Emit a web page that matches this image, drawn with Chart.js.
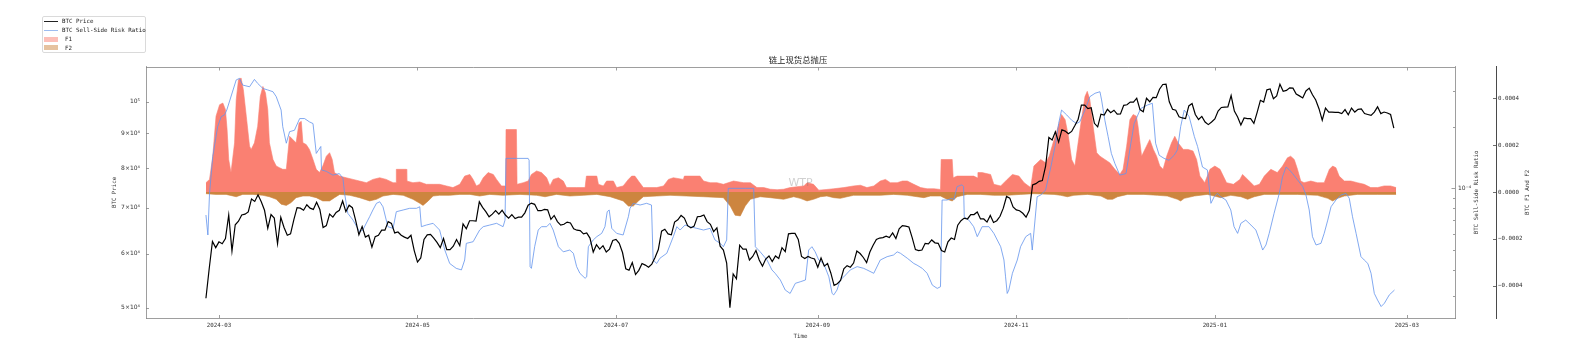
<!DOCTYPE html>
<html>
<head>
<meta charset="utf-8">
<script src="https://cdn.jsdelivr.net/npm/chart.js@4.4.1/dist/chart.umd.min.js"></script>
<style>
html,body{margin:0;padding:0;background:#fff;}
#wrap{position:relative;width:1596px;height:360px;overflow:hidden;}
#c{position:absolute;left:0;top:0;}
.lg{position:absolute;}
.lgbox{left:41.5px;top:16px;width:104.5px;height:37px;border:1px solid #dadada;border-radius:2px;box-sizing:border-box;background:rgba(255,255,255,0.8);}
.lgt{font:5.8px 'DejaVu Sans Mono',monospace;line-height:6px;height:6px;color:#222;white-space:pre;}
</style>
</head>
<body>
<div id="wrap">
<canvas id="c" width="1596" height="360"></canvas>
<div class="lg lgbox"></div>
<div class="lg" style="left:44px;top:20.7px;width:14px;height:1px;background:#222"></div>
<div class="lg lgt" style="left:62px;top:18.2px">BTC Price</div>
<div class="lg" style="left:44px;top:29.6px;width:14px;height:1px;background:#9dbcf0"></div>
<div class="lg lgt" style="left:62px;top:27.1px">BTC Sell-Side Risk Ratio</div>
<div class="lg" style="left:44px;top:36.5px;width:14px;height:5px;background:rgba(250,128,114,0.5)"></div>
<div class="lg lgt" style="left:65px;top:36px">F1</div>
<div class="lg" style="left:44px;top:45.3px;width:14px;height:5px;background:rgba(205,133,63,0.5)"></div>
<div class="lg lgt" style="left:65px;top:44.8px">F2</div>
</div>
<script>
// ---------------- DATA ----------------
const startDate = '2024-02-26';           // first daily price
const chartTitle = '链上现货总抛压';
const xTitle = 'Time';
const priceTitle = 'BTC Price';
const ssrTitle = 'BTC Sell-Side Risk Ratio';
const f12Title = 'BTC F1 And F2';

// daily BTC price, 2024-02-26 .. 2025-02-25
const btcPrice = [
  51600, 57000, 62500, 61200,
  62400, 62000, 63100, 68300, 60500, 66100, 66900, 68300, 68500, 69000, 72100, 71500, 73100, 71400, 69400, 65300, 68400, 67600, 62000, 67800, 65500, 63800, 64100, 67200, 70000, 69900, 69400, 70700, 69900, 69600, 71300,
  69600, 65500, 65900, 68500, 67800, 68900, 69400, 71600, 69100, 70600, 70000, 67100, 63900, 65700, 63400, 63800, 61300, 63500, 63800, 64900, 64900, 66800, 66400, 64300, 64500, 63800, 63400, 63100, 63800, 60600,
  58300, 59100, 62900, 63900, 64000, 63200, 62300, 61200, 63100, 60800, 60800, 61500, 62900, 61600, 66300, 65200, 67000, 67000, 66900, 71400, 70100, 69100, 67900, 68500, 69300, 68500, 69400, 68300, 67600, 68400, 67500,
  67800, 67800, 68800, 70600, 71100, 70800, 69300, 69300, 69600, 69500, 67300, 68200, 66800, 66000, 66200, 66700, 66500, 65200, 64900, 64800, 64100, 64300, 63200, 60300, 61800, 60900, 61600, 60300, 60900, 62700,
  62900, 62100, 60200, 57000, 56700, 58200, 55900, 56700, 58000, 57700, 57300, 57900, 59200, 60800, 64700, 65100, 64100, 63900, 66700, 67200, 68200, 67600, 65900, 65400, 65800, 67900, 68000, 68300, 66800, 66200, 64600,
  65400, 61500, 60700, 58100, 50000, 56000, 55100, 61700, 60900, 60900, 58700, 59400, 60600, 58700, 57500, 58900, 59500, 58400, 59500, 59000, 61200, 60400, 64100, 64200, 64200, 62900, 59400, 59000, 59400, 59100, 58900,
  57300, 59100, 57500, 58000, 56200, 53900, 54200, 54800, 57000, 57600, 57300, 58100, 60500, 60000, 59200, 58200, 60300, 61700, 62900, 63200, 63300, 63600, 63300, 64300, 63100, 65200, 65900, 65800, 65600, 63300,
  60800, 60600, 60700, 62100, 62000, 62800, 62200, 62100, 60600, 60300, 62400, 63200, 62900, 66000, 67000, 67600, 67400, 68400, 68400, 69000, 67400, 67400, 66700, 68200, 66600, 67000, 68000, 69900, 72700, 72300, 70200,
  69500, 69300, 68700, 67800, 69400, 75600, 75900, 76500, 76700, 80500, 88700, 87900, 90400, 87300, 91000, 90600, 89800, 90500, 92300, 94300, 98900, 98900, 97700, 98000, 93000, 91900, 95900, 95600, 97500, 96400,
  97200, 95900, 96000, 98800, 99000, 99900, 99900, 101200, 97400, 96700, 101200, 100000, 101500, 101400, 104300, 106000, 106100, 100000, 97500, 97200, 95100, 94700, 94500, 98600, 99400, 95800, 94200, 95200, 93400, 92600, 93400,
  94400, 96900, 98100, 98200, 98300, 102100, 96900, 95000, 92500, 94700, 94500, 94500, 93000, 96500, 100500, 99900, 104100, 104400, 101000, 102000, 106100, 103600, 103900, 104800, 104700, 102600, 102000, 101300, 103700, 104700, 102400,
  100600, 97700, 94000, 97900, 96600, 96600, 96500, 96500, 96100, 97400, 95700, 97900, 96600, 97500, 97600, 96100, 95800, 95500, 96600, 98300, 96100, 96600, 96300, 95800, 91500
];

// Sell-side risk ratio: day offset from startDate, value
const ssrDay = [0,0.6,1.1,2.1,3.6,4.7,5.7,6.4,9.3,10.3,11.3,13.4,14.9,15.9,17.5,19.0,20.6,21.6,23.1,23.6,24.7,25.7,27.2,28.8,30.3,31.8,32.9,33.9,35.3,35.5,37.0,39.0,41.0,42.1,42.6,43.6,45.2,47.2,48.2,50.3,51.3,52.4,53.4,54.4,55.9,57.5,58.5,60.6,62.6,64.7,65.7,66.2,67.7,69.8,71.8,73.4,74.9,76.9,78.5,79.5,80.0,82.1,84.1,85.2,87.2,89.3,91.3,91.9,92.2,95.4,99.0,99.3,99.6,100.0,101.0,102.1,103.1,104.7,105.7,106.7,108.3,109.8,111.8,112.9,113.9,114.9,116.5,117.0,117.5,119.0,120.1,121.6,122.6,123.3,123.9,124.7,126.2,128.2,129.8,130.3,131.3,133.4,135.4,136.9,137.4,138.5,139.5,141.6,143.6,144.7,145.7,147.2,148.8,150.8,152.9,154.9,156.4,158.0,159.0,160.0,160.5,162.6,165.7,168.3,168.8,170.3,172.4,173.9,174.9,176.5,178.0,179.5,181.1,182.6,184.2,185.2,186.2,187.2,188.3,189.8,191.4,192.4,192.9,193.9,194.9,196.0,198.0,200.1,202.1,203.1,205.2,207.2,209.3,211.3,212.4,213.4,215.5,217.5,218.5,220.1,221.6,223.2,224.7,225.7,226.2,227.7,229.3,229.8,230.8,232.3,232.8,233.0,234.4,235.9,237.0,238.0,238.5,240.6,242.1,244.2,245.2,245.7,246.2,246.7,247.8,249.3,250.3,251.9,253.4,253.9,255.4,256.5,258.0,259.6,261.1,262.0,262.9,264.5,266.0,267.5,268.5,270.1,271.6,273.2,274.7,275.2,276.2,277.2,278.2,279.3,280.8,282.7,284.2,285.2,287.2,289.3,290.8,291.8,292.9,294.4,295.9,297.5,298.5,299.5,300.6,302.1,303.7,304.7,306.2,307.7,308.8,309.8,310.8,311.8,313.4,314.9,315.9,317.0,318.0,319.5,321.1,322.6,323.7,324.7,325.7,326.7,328.2,329.8,330.8,331.9,332.9,333.9,335.4,337.0,338.0,339.0,340.0,341.1,342.6,343.6,344.7,345.7,347.2,348.7,350.3,351.3,352.3,353.4,354.9,355.9,357.0,358.0,359.0,360.0,361.1,362.1,363.6,365.2];
const ssrVal = [7.41e-5,5.92e-5,9.45e-5,1.43e-4,2.0e-4,2.24e-4,2.28e-4,2.41e-4,3.38e-4,3.44e-4,3.19e-4,3.13e-4,3.40e-4,3.25e-4,3.07e-4,3.02e-4,2.96e-4,2.80e-4,2.41e-4,2.0e-4,1.66e-4,1.89e-4,1.92e-4,2.19e-4,2.19e-4,2.11e-4,2.07e-4,1.48e-4,1.60e-4,1.23e-4,1.21e-4,1.16e-4,1.18e-4,1.12e-4,9.45e-5,7.55e-5,7.0e-5,6.14e-5,6.26e-5,7.27e-5,7.84e-5,8.45e-5,8.6e-5,8.13e-5,6.5e-5,6.38e-5,7.69e-5,7.84e-5,7.99e-5,7.99e-5,8.13e-5,6.5e-5,6.62e-5,6.75e-5,6.26e-5,5.0e-5,4.3e-5,4.07e-5,4.0e-5,4.47e-5,5.39e-5,5.49e-5,6.26e-5,6.5e-5,6.62e-5,6.75e-5,6.5e-5,7.0e-5,1.40e-4,1.40e-4,1.40e-4,1.37e-4,4.15e-5,4.07e-5,5.19e-5,6.26e-5,6.5e-5,6.5e-5,6.75e-5,6.26e-5,5.19e-5,4.9e-5,5.0e-5,4.82e-5,4.15e-5,3.85e-5,3.64e-5,3.7e-5,5.19e-5,5.6e-5,5.81e-5,6.03e-5,6.5e-5,7.69e-5,7.84e-5,6.38e-5,6.03e-5,5.92e-5,7.27e-5,7.99e-5,8.45e-5,8.29e-5,8.45e-5,8.29e-5,4.47e-5,4.3e-5,4.56e-5,4.82e-5,5.81e-5,6.5e-5,6.26e-5,6.62e-5,6.5e-5,6.38e-5,6.26e-5,6.38e-5,5.6e-5,5.39e-5,5.19e-5,5.6e-5,1.0e-4,1.0e-4,1.0e-4,1.0e-4,5.19e-5,4.9e-5,4.47e-5,4.0e-5,3.85e-5,3.57e-5,3.19e-5,3.07e-5,3.44e-5,3.5e-5,3.57e-5,5.0e-5,5.19e-5,4.9e-5,4.47e-5,4.3e-5,3.7e-5,3.07e-5,3.02e-5,3.19e-5,3.57e-5,3.7e-5,4.0e-5,4.15e-5,4.07e-5,4.0e-5,3.85e-5,4.47e-5,4.64e-5,4.73e-5,4.9e-5,4.82e-5,4.56e-5,4.3e-5,4.22e-5,4.07e-5,3.85e-5,3.37e-5,3.25e-5,3.31e-5,8.77e-5,8.77e-5,8.94e-5,8.77e-5,1.02e-4,1.04e-4,1.02e-4,7.27e-5,7.0e-5,6.5e-5,5.81e-5,6.26e-5,6.5e-5,6.5e-5,6.03e-5,5.19e-5,4.47e-5,3.7e-5,3.07e-5,3.19e-5,3.85e-5,4.47e-5,5.19e-5,5.81e-5,6.03e-5,5.0e-5,9.10e-5,9.27e-5,9.81e-5,1.27e-4,1.66e-4,2.07e-4,2.41e-4,2.28e-4,2.15e-4,2.07e-4,2.11e-4,2.41e-4,2.80e-4,2.91e-4,2.96e-4,2.70e-4,2.15e-4,1.79e-4,1.48e-4,1.32e-4,1.16e-4,1.18e-4,1.66e-4,2.07e-4,2.45e-4,2.55e-4,2.60e-4,1.66e-4,1.45e-4,1.40e-4,1.37e-4,1.45e-4,1.54e-4,2.0e-4,2.41e-4,2.24e-4,1.79e-4,1.60e-4,1.27e-4,1.23e-4,8.45e-5,9.10e-5,9.45e-5,9.10e-5,8.77e-5,7.84e-5,6.5e-5,6.03e-5,6.75e-5,7.0e-5,6.62e-5,6.26e-5,5.6e-5,5.0e-5,5.29e-5,6.03e-5,7.55e-5,9.45e-5,1.14e-4,1.27e-4,1.23e-4,1.18e-4,1.10e-4,1.02e-4,9.27e-5,7.84e-5,5.81e-5,5.29e-5,5.39e-5,6.03e-5,7.0e-5,8.13e-5,8.77e-5,9.27e-5,9.45e-5,8.94e-5,7.27e-5,6.03e-5,4.64e-5,4.47e-5,4.3e-5,3.85e-5,3.07e-5,2.85e-5,2.65e-5,2.75e-5,3.02e-5,3.19e-5];

// F1: day offset, value
const f1Day = [0,1.1,2.1,3.1,4.2,5.2,6.0,6.5,7.0,7.7,8.8,9.3,10.0,10.8,11.5,12.4,13.4,13.9,14.9,15.9,16.7,17.5,18.3,19.0,19.5,20.6,21.6,22.6,23.6,24.7,25.7,26.7,27.7,28.6,29.3,29.8,30.8,31.8,32.9,33.9,34.9,35.9,37.0,38.0,38.8,39.5,41.1,43.1,45.2,47.2,49.3,51.3,53.4,55.4,57.5,58.4,58.5,61.6,61.7,63.6,65.7,67.7,69.8,71.8,73.9,75.9,78.0,79.5,81.1,82.1,83.1,84.1,85.2,86.7,88.3,89.3,90.8,92.1,92.2,95.4,95.6,97.5,99.0,100.0,101.6,103.1,104.7,105.7,106.7,108.3,109.8,110.8,113.9,116.5,116.9,120.1,120.6,122.1,123.1,125.2,126.2,128.2,129.8,130.8,131.8,132.9,134.4,138.5,140.6,142.1,143.6,146.7,147.0,151.8,152.9,154.9,157.0,159.0,162.1,165.2,167.3,169.3,171.4,173.4,175.5,177.5,179.5,183.7,184.7,186.7,188.3,190.8,192.9,196.0,199.0,201.1,203.1,205.2,207.2,208.8,210.3,212.4,214.0,215.5,217.5,219.6,221.6,223.7,225.7,225.9,229.3,229.6,230.8,232.9,235.9,237.0,237.2,238.5,241.1,242.1,244.2,246.2,247.8,249.8,251.4,253.4,254.4,256.5,258.0,259.1,260.3,261.9,262.9,264.0,265.0,266.0,267.0,268.0,269.0,270.1,270.8,271.6,272.6,273.7,274.7,276.2,277.7,279.3,280.8,281.8,282.9,283.9,284.9,285.9,286.4,287.5,289.0,290.0,291.1,292.1,293.1,294.1,295.2,296.7,297.7,298.7,300.3,301.8,303.3,304.4,305.4,306.9,308.5,310.0,311.6,312.6,313.6,315.7,317.7,318.5,320.1,322.1,323.7,325.2,327.2,329.2,330.8,332.3,333.3,334.4,335.4,336.4,337.4,339.5,341.5,343.6,345.2,346.2,347.2,348.2,349.8,351.8,353.8,355.9,357.9,360.0,362.0,364.0,365.7];
const f1Val = [4.0e-5,5.4e-5,1.53e-4,3.24e-4,3.73e-4,3.80e-4,3.52e-4,2.67e-4,1.39e-4,8.3e-5,2.10e-4,3.94e-4,4.80e-4,4.87e-4,4.37e-4,3.24e-4,1.96e-4,1.82e-4,2.10e-4,2.81e-4,4.08e-4,4.51e-4,4.23e-4,3.52e-4,2.10e-4,1.39e-4,1.11e-4,1.04e-4,9.7e-5,9.7e-5,2.38e-4,2.24e-4,2.10e-4,2.95e-4,3.02e-4,2.10e-4,2.03e-4,1.82e-4,1.39e-4,9.7e-5,8.3e-5,1.11e-4,1.53e-4,1.68e-4,1.39e-4,8.3e-5,6.8e-5,6.1e-5,5.4e-5,4.7e-5,4.0e-5,5.4e-5,6.1e-5,5.4e-5,4.0e-5,4.0e-5,9.7e-5,9.7e-5,4.7e-5,4.0e-5,4.3e-5,3.3e-5,3.3e-5,3.3e-5,2.6e-5,1.9e-5,3.3e-5,6.8e-5,7.5e-5,5.4e-5,2.6e-5,3.3e-5,6.1e-5,8.3e-5,7.5e-5,5.4e-5,2.6e-5,2.6e-5,2.67e-4,2.67e-4,3.3e-5,4.0e-5,4.7e-5,7.5e-5,9.0e-5,8.3e-5,6.1e-5,2.6e-5,5.4e-5,6.1e-5,4.7e-5,1.9e-5,1.9e-5,1.9e-5,6.8e-5,6.8e-5,3.3e-5,2.6e-5,4.7e-5,4.7e-5,1.9e-5,2.6e-5,5.4e-5,6.8e-5,6.8e-5,4.7e-5,1.9e-5,1.9e-5,2.6e-5,5.4e-5,6.1e-5,5.4e-5,6.8e-5,6.8e-5,4.7e-5,4.0e-5,4.0e-5,3.3e-5,4.7e-5,4.0e-5,4.0e-5,1.9e-5,1.9e-5,1.2e-5,1.0e-5,1.2e-5,1.9e-5,2.6e-5,4.0e-5,3.3e-5,8e-6,1.1e-5,1.4e-5,1.9e-5,2.6e-5,2.9e-5,1.9e-5,2.6e-5,4.7e-5,5.4e-5,4.0e-5,4.0e-5,4.7e-5,4.7e-5,3.3e-5,1.9e-5,1.4e-5,1.4e-5,1.1e-5,1.39e-4,1.39e-4,6.1e-5,6.8e-5,6.8e-5,6.8e-5,6.1e-5,8.3e-5,8.3e-5,7.5e-5,3.3e-5,2.6e-5,5.4e-5,7.5e-5,6.8e-5,4.0e-5,1.9e-5,1.11e-4,1.39e-4,1.25e-4,1.53e-4,2.10e-4,2.81e-4,3.31e-4,3.09e-4,2.38e-4,1.39e-4,1.11e-4,2.10e-4,3.09e-4,4.08e-4,4.30e-4,3.94e-4,2.81e-4,1.68e-4,1.53e-4,1.39e-4,1.25e-4,9.7e-5,7.5e-5,9.7e-5,1.96e-4,3.09e-4,3.31e-4,3.24e-4,2.81e-4,1.53e-4,1.96e-4,2.24e-4,1.82e-4,1.53e-4,1.11e-4,9.7e-5,1.53e-4,2.10e-4,2.38e-4,2.10e-4,1.82e-4,1.82e-4,1.75e-4,1.39e-4,6.8e-5,4.0e-5,9.7e-5,1.11e-4,9.7e-5,6.8e-5,4.0e-5,3.3e-5,5.4e-5,7.5e-5,5.4e-5,2.6e-5,3.3e-5,6.8e-5,9.7e-5,8.3e-5,1.11e-4,1.46e-4,1.53e-4,1.39e-4,9.7e-5,4.7e-5,4.0e-5,4.7e-5,4.0e-5,4.0e-5,9.7e-5,1.11e-4,1.04e-4,6.8e-5,4.7e-5,4.7e-5,4.0e-5,3.3e-5,1.9e-5,1.9e-5,2.6e-5,2.6e-5,1.9e-5];

// F2: day offset, value
const f2Day = [0,3.1,6.2,9.3,11.3,14.4,17.5,19.5,21.6,23.1,24.7,26.2,27.7,29.8,31.8,33.9,35.9,38.0,39.5,41.1,44.2,47.2,50.3,52.4,54.4,57.5,60.6,63.6,65.7,66.7,68.3,69.8,71.8,74.9,78.0,81.1,84.1,87.2,91.3,96.5,101.6,104.2,107.7,111.8,115.9,120.1,124.2,128.2,129.8,131.3,132.9,134.4,138.5,142.6,147.7,152.9,159.0,161.1,162.6,164.2,165.7,167.3,170.3,173.4,177.5,180.6,182.6,184.7,186.7,188.8,190.8,192.9,194.9,197.0,199.0,203.1,207.2,211.3,215.5,218.5,220.6,222.6,225.7,227.7,229.3,230.8,233.9,238.0,242.1,246.2,250.3,254.4,260.6,262.6,264.7,266.7,270.9,275.0,277.0,278.6,280.1,283.2,288.2,292.4,295.4,298.5,299.5,300.6,303.7,307.7,309.8,311.8,314.9,318.0,320.1,322.1,325.2,330.3,335.4,341.5,344.7,346.2,347.7,349.8,353.8,360.0,365.7];
const f2Val = [-7e-6,-1.0e-5,-1.0e-5,-2.0e-5,-1.0e-5,-1.0e-5,-1.4e-5,-2.0e-5,-3.1e-5,-5.2e-5,-5.7e-5,-4.5e-5,-2.4e-5,-1.7e-5,-1.7e-5,-2.4e-5,-3.8e-5,-3.8e-5,-2.4e-5,-1.0e-5,-1.4e-5,-2.4e-5,-3.8e-5,-3.1e-5,-1.7e-5,-1.0e-5,-1.4e-5,-3.1e-5,-4.8e-5,-5.7e-5,-3.8e-5,-1.7e-5,-1.4e-5,-1.4e-5,-1.0e-5,-1.0e-5,-1.7e-5,-1.0e-5,-1.4e-5,-1.0e-5,-1.4e-5,-2.0e-5,-1.0e-5,-1.7e-5,-1.4e-5,-1.0e-5,-2.0e-5,-3.8e-5,-6.0e-5,-6.0e-5,-3.8e-5,-2.0e-5,-1.7e-5,-1.4e-5,-1.7e-5,-2.0e-5,-2.4e-5,-6.0e-5,-9.9e-5,-1.02e-4,-6.0e-5,-3.1e-5,-2.0e-5,-2.4e-5,-3.1e-5,-2.0e-5,-2.7e-5,-3.8e-5,-3.1e-5,-2.0e-5,-1.7e-5,-2.4e-5,-2.7e-5,-2.0e-5,-1.4e-5,-1.4e-5,-1.4e-5,-1.0e-5,-1.4e-5,-2.0e-5,-2.4e-5,-1.7e-5,-1.7e-5,-3.1e-5,-3.8e-5,-2.0e-5,-1.0e-5,-1.0e-5,-1.4e-5,-1.4e-5,-1.0e-5,-7e-6,-1.0e-5,-1.4e-5,-2.0e-5,-1.4e-5,-1.0e-5,-1.7e-5,-3.1e-5,-3.1e-5,-2.0e-5,-1.0e-5,-1.0e-5,-1.4e-5,-1.7e-5,-3.1e-5,-3.8e-5,-2.7e-5,-1.7e-5,-1.0e-5,-1.7e-5,-2.4e-5,-1.4e-5,-2.0e-5,-3.1e-5,-2.0e-5,-1.0e-5,-1.0e-5,-1.0e-5,-1.4e-5,-2.7e-5,-3.8e-5,-2.7e-5,-1.7e-5,-1.0e-5,-1.0e-5,-1.0e-5];

// ticks
const xTickDates  = ['2024-03-01','2024-05-01','2024-07-01','2024-09-01','2024-11-01','2025-01-01','2025-03-01'];
const xTickLabels = ['2024-03','2024-05','2024-07','2024-09','2024-11','2025-01','2025-03'];
const priceTicks  = [50000, 60000, 70000, 80000, 90000, 100000];
const priceTickLabels = ['5×10⁴','6×10⁴','7×10⁴','8×10⁴','9×10⁴','10⁵'];
const ssrTicks = [3e-5,4e-5,5e-5,6e-5,7e-5,8e-5,9e-5,1e-4,2e-4,3e-4];
const ssrMajor = 1e-4;
const ssrMajorLabel = '10⁻⁴';
const f12Ticks = [-0.0004,-0.0002,0,0.0002,0.0004];
const f12TickLabels = ['−0.0004','−0.0002','0.0000','0.0002','0.0004'];

// axis ranges
const xRange = ['2024-02-07T14:00', '2025-03-15T19:00'];
const priceRange = [48290, 112500];
const ssrRange = [2.33e-5, 3.918e-4];
const f12Range = [-0.000538, 0.000535];

// ---------------- CHART ----------------
const DAYMS = 86400000;
const t0 = Date.parse(startDate + 'T00:00:00Z');
const dayOf = s => (Date.parse(s.length > 10 ? s + ':00Z' : s + 'T00:00:00Z') - t0) / DAYMS;

const MONO = "'DejaVu Sans Mono', monospace";
const SANS = "'DejaVu Sans', sans-serif";
const FS = 5.8;
const TXT = '#333';
const FRAME = '#858585';
const SPINE2 = '#4a4a4a';
const F1C = 'rgb(250,128,114)';
const F2C = 'rgb(205,133,63)';

Chart.defaults.font.family = MONO;
Chart.defaults.font.size = FS;
Chart.defaults.color = TXT;

const pts = (xs, ys) => xs.map((d, i) => ({x: d, y: ys[i]}));
const noGrid = {display: false, drawTicks: false, tickLength: 0};

const decor = {
  id: 'decor',
  afterDraw(chart) {
    const {ctx, chartArea: a, scales} = chart;
    const {x, y, y1, y2} = scales;
    ctx.save();
    ctx.lineWidth = 0.8;
    ctx.strokeStyle = FRAME;
    ctx.beginPath();
    const top = Math.round(a.top) + 0.5;
    ctx.moveTo(a.left, top); ctx.lineTo(a.right + 0.5, top);
    x.ticks.forEach(t => {
      const px = Math.round(x.getPixelForValue(t.value)) + 0.5;
      ctx.moveTo(px, a.bottom); ctx.lineTo(px, a.bottom - 3);
      ctx.moveTo(px, top); ctx.lineTo(px, top + 3);
    });
    y.ticks.forEach(t => {
      const py = Math.round(y.getPixelForValue(t.value)) + 0.5;
      ctx.moveTo(a.left, py); ctx.lineTo(a.left + 3, py);
    });
    y1.ticks.forEach(t => {
      const py = Math.round(y1.getPixelForValue(t.value)) + 0.5;
      const len = t.value === ssrMajor ? 3.5 : 2;
      ctx.moveTo(a.right, py); ctx.lineTo(a.right - len, py);
    });
    ctx.stroke();
    ctx.strokeStyle = SPINE2;
    ctx.beginPath();
    y2.ticks.forEach(t => {
      const py = Math.round(y2.getPixelForValue(t.value)) + 0.5;
      ctx.moveTo(y2.left, py); ctx.lineTo(y2.left - 3, py);
    });
    ctx.stroke();
    // right-side axis titles (reading bottom to top)
    ctx.fillStyle = TXT;
    ctx.font = FS + 'px ' + MONO;
    ctx.textAlign = 'center';
    ctx.textBaseline = 'middle';
    const cy = (a.top + a.bottom) / 2;
    [[ssrTitle, y1.left + 21], [f12Title, y2.left + 31]].forEach(([txt, cx]) => {
      ctx.save(); ctx.translate(cx, cy); ctx.rotate(-Math.PI / 2); ctx.fillText(txt, 0, 0); ctx.restore();
    });
    // watermark
    ctx.font = "11px 'DejaVu Sans'";
    ctx.fillStyle = 'rgba(120,120,120,0.35)';
    ctx.fillText('WTP', (a.left + a.right) / 2, a.top + (a.bottom - a.top) * 0.465);
    ctx.restore();
  }
};

new Chart(document.getElementById('c'), {
  type: 'line',
  data: {
    datasets: [
      {label: 'BTC Price', data: pts(btcPrice.map((v, i) => i), btcPrice), yAxisID: 'y',
       borderColor: '#000', borderWidth: 1.2, pointRadius: 0, tension: 0, fill: false},
      {label: 'BTC Sell-Side Risk Ratio', data: pts(ssrDay, ssrVal), yAxisID: 'y1',
       borderColor: 'rgba(100,149,237,0.9)', borderWidth: 0.9, pointRadius: 0, tension: 0, fill: false},
      {label: 'F1', data: pts(f1Day, f1Val), yAxisID: 'y2',
       borderColor: F1C, backgroundColor: F1C, borderWidth: 0.6, pointRadius: 0, tension: 0, fill: 'origin'},
      {label: 'F2', data: pts(f2Day, f2Val), yAxisID: 'y2',
       borderColor: F2C, backgroundColor: F2C, borderWidth: 0.6, pointRadius: 0, tension: 0, fill: 'origin'}
    ]
  },
  options: {
    responsive: false,
    devicePixelRatio: 1,
    animation: false,
    events: [],
    layout: {padding: 0},
    plugins: {
      legend: {display: false},
      tooltip: {enabled: false},
      title: {display: true, text: chartTitle, color: '#222',
              font: {family: "'Noto Sans CJK SC'", size: 8.4, weight: 'normal'},
              padding: {top: 54.3, bottom: 2.4}}
    },
    scales: {
      x: {
        type: 'linear', min: dayOf(xRange[0]), max: dayOf(xRange[1]),
        grid: noGrid, border: {display: true, color: FRAME, width: 0.8},
        ticks: {autoSkip: false, maxRotation: 0, padding: 4, callback: (v, i) => xTickLabels[i]},
        afterBuildTicks: s => { s.ticks = xTickDates.map(d => ({value: dayOf(d)})); },
        afterFit: s => { s.height = 42; },
        title: {display: true, text: xTitle, padding: {top: 0, bottom: 20.5}}
      },
      y: {
        type: 'logarithmic', position: 'left', min: priceRange[0], max: priceRange[1],
        grid: noGrid, border: {display: true, color: FRAME, width: 0.8},
        ticks: {autoSkip: false, padding: 6, font: {family: SANS, size: 6}, callback: (v, i) => priceTickLabels[i]},
        afterBuildTicks: s => { s.ticks = priceTicks.map(v => ({value: v})); },
        afterFit: s => { s.width = 146; },
        title: {display: true, text: priceTitle, padding: {top: 111.5, bottom: 0}}
      },
      y1: {
        type: 'logarithmic', position: 'right', min: ssrRange[0], max: ssrRange[1],
        grid: noGrid, border: {display: true, color: FRAME, width: 0.8},
        ticks: {autoSkip: false, padding: 3, font: {family: SANS, size: 6}, callback: v => (v === ssrMajor ? ssrMajorLabel : '')},
        afterBuildTicks: s => { s.ticks = ssrTicks.map(v => ({value: v})); },
        afterFit: s => { s.width = 41; }
      },
      y2: {
        type: 'linear', position: 'right', min: f12Range[0], max: f12Range[1],
        grid: noGrid, border: {display: true, color: SPINE2, width: 1},
        ticks: {autoSkip: false, padding: 2, callback: (v, i) => f12TickLabels[i]},
        afterBuildTicks: s => { s.ticks = f12Ticks.map(v => ({value: v})); },
        afterFit: s => { s.width = 100; }
      }
    }
  },
  plugins: [decor]
});
</script>
</body>
</html>
